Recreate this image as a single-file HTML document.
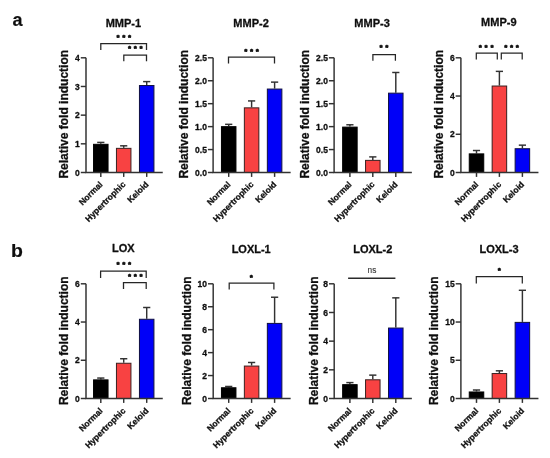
<!DOCTYPE html>
<html><head><meta charset="utf-8"><title>Relative fold induction of MMP and LOX family genes</title>
<style>
html,body{margin:0;padding:0;background:#fff;}
body{width:550px;height:458px;overflow:hidden;}
svg{display:block;}
text{font-family:"Liberation Sans", Arial, Helvetica, sans-serif;fill:#111;stroke:#111;stroke-width:0.3px;stroke-linejoin:round;}
.tk{font-size:8.5px;font-weight:bold;text-anchor:end;}
.xl{font-size:8.5px;font-weight:bold;text-anchor:end;}
.ti{font-size:11px;font-weight:bold;text-anchor:middle;}
.yl{font-size:12px;font-weight:bold;text-anchor:start;}
.st{font-size:8px;font-weight:bold;text-anchor:middle;letter-spacing:2.65px;stroke-width:0.6px;}
.ns{font-size:8.3px;text-anchor:middle;fill:#3c3c3c;stroke:#3c3c3c;stroke-width:0.15px;}
.pl{font-size:18px;font-weight:bold;stroke-width:0.2px;}
</style></head>
<body>
<svg width="550" height="458" viewBox="0 0 550 458">
<defs><filter id="soft" x="0" y="0" width="100%" height="100%"><feGaussianBlur stdDeviation="0.3"/></filter></defs>
<rect width="550" height="458" fill="#fff"/>
<g filter="url(#soft)">
<text x="12.6" y="25.8" class="pl">a</text>
<text transform="translate(11.0 256.6) scale(1.08 1)" class="pl">b</text>
<g><line x1="100.80" y1="143.82" x2="100.80" y2="142.39" stroke="#303030" stroke-width="1.45"/><line x1="97.20" y1="142.39" x2="104.40" y2="142.39" stroke="#303030" stroke-width="1.45"/><rect x="93.55" y="144.32" width="14.50" height="28.18" fill="#000000" stroke="#000000" stroke-width="1"/><line x1="123.70" y1="147.84" x2="123.70" y2="145.83" stroke="#303030" stroke-width="1.45"/><line x1="120.10" y1="145.83" x2="127.30" y2="145.83" stroke="#303030" stroke-width="1.45"/><rect x="116.45" y="148.34" width="14.50" height="24.16" fill="#f84242" stroke="#3a2020" stroke-width="1"/><line x1="146.70" y1="85.04" x2="146.70" y2="81.60" stroke="#303030" stroke-width="1.45"/><line x1="143.10" y1="81.60" x2="150.30" y2="81.60" stroke="#303030" stroke-width="1.45"/><rect x="139.45" y="85.54" width="14.50" height="86.96" fill="#0000f8" stroke="#101040" stroke-width="1"/><path d="M86.00 57.80 V172.50 H162.75" fill="none" stroke="#303030" stroke-width="1.45"/><line x1="80.80" y1="172.50" x2="86.00" y2="172.50" stroke="#303030" stroke-width="1.45"/><text x="79.80" y="175.65" class="tk">0</text><line x1="80.80" y1="143.82" x2="86.00" y2="143.82" stroke="#303030" stroke-width="1.45"/><text x="79.80" y="146.97" class="tk">1</text><line x1="80.80" y1="115.15" x2="86.00" y2="115.15" stroke="#303030" stroke-width="1.45"/><text x="79.80" y="118.30" class="tk">2</text><line x1="80.80" y1="86.47" x2="86.00" y2="86.47" stroke="#303030" stroke-width="1.45"/><text x="79.80" y="89.62" class="tk">3</text><line x1="80.80" y1="57.80" x2="86.00" y2="57.80" stroke="#303030" stroke-width="1.45"/><text x="79.80" y="60.95" class="tk">4</text><line x1="100.80" y1="172.50" x2="100.80" y2="176.90" stroke="#303030" stroke-width="1.45"/><text transform="translate(103.20 185.00) rotate(-45)" class="xl">Normal</text><line x1="123.70" y1="172.50" x2="123.70" y2="176.90" stroke="#303030" stroke-width="1.45"/><text transform="translate(126.10 185.00) rotate(-45)" class="xl">Hypertrophic</text><line x1="146.70" y1="172.50" x2="146.70" y2="176.90" stroke="#303030" stroke-width="1.45"/><text transform="translate(149.10 185.00) rotate(-45)" class="xl">Keloid</text><text x="123.40" y="27.00" class="ti">MMP-1</text><text transform="translate(68.10 178.60) rotate(-90)" class="yl">Relative fold induction</text><path d="M100.80 49.90 V43.70 H146.50 V49.90" fill="none" stroke="#262626" stroke-width="1.25"/><text x="125.03" y="39.60" class="st">***</text><path d="M123.80 61.20 V55.00 H146.50 V61.20" fill="none" stroke="#262626" stroke-width="1.25"/><text x="136.72" y="51.40" class="st">***</text></g>
<g><line x1="228.70" y1="126.16" x2="228.70" y2="124.33" stroke="#303030" stroke-width="1.45"/><line x1="225.10" y1="124.33" x2="232.30" y2="124.33" stroke="#303030" stroke-width="1.45"/><rect x="221.45" y="126.66" width="14.50" height="45.84" fill="#000000" stroke="#000000" stroke-width="1"/><line x1="251.60" y1="107.35" x2="251.60" y2="100.93" stroke="#303030" stroke-width="1.45"/><line x1="248.00" y1="100.93" x2="255.20" y2="100.93" stroke="#303030" stroke-width="1.45"/><rect x="244.35" y="107.85" width="14.50" height="64.65" fill="#f84242" stroke="#3a2020" stroke-width="1"/><line x1="274.60" y1="88.54" x2="274.60" y2="82.12" stroke="#303030" stroke-width="1.45"/><line x1="271.00" y1="82.12" x2="278.20" y2="82.12" stroke="#303030" stroke-width="1.45"/><rect x="267.35" y="89.04" width="14.50" height="83.46" fill="#0000f8" stroke="#101040" stroke-width="1"/><path d="M213.10 57.80 V172.50 H290.65" fill="none" stroke="#303030" stroke-width="1.45"/><line x1="207.90" y1="172.50" x2="213.10" y2="172.50" stroke="#303030" stroke-width="1.45"/><text x="206.90" y="175.65" class="tk">0.0</text><line x1="207.90" y1="149.56" x2="213.10" y2="149.56" stroke="#303030" stroke-width="1.45"/><text x="206.90" y="152.71" class="tk">0.5</text><line x1="207.90" y1="126.62" x2="213.10" y2="126.62" stroke="#303030" stroke-width="1.45"/><text x="206.90" y="129.77" class="tk">1.0</text><line x1="207.90" y1="103.68" x2="213.10" y2="103.68" stroke="#303030" stroke-width="1.45"/><text x="206.90" y="106.83" class="tk">1.5</text><line x1="207.90" y1="80.74" x2="213.10" y2="80.74" stroke="#303030" stroke-width="1.45"/><text x="206.90" y="83.89" class="tk">2.0</text><line x1="207.90" y1="57.80" x2="213.10" y2="57.80" stroke="#303030" stroke-width="1.45"/><text x="206.90" y="60.95" class="tk">2.5</text><line x1="228.70" y1="172.50" x2="228.70" y2="176.90" stroke="#303030" stroke-width="1.45"/><text transform="translate(231.10 185.00) rotate(-45)" class="xl">Normal</text><line x1="251.60" y1="172.50" x2="251.60" y2="176.90" stroke="#303030" stroke-width="1.45"/><text transform="translate(254.00 185.00) rotate(-45)" class="xl">Hypertrophic</text><line x1="274.60" y1="172.50" x2="274.60" y2="176.90" stroke="#303030" stroke-width="1.45"/><text transform="translate(277.00 185.00) rotate(-45)" class="xl">Keloid</text><text x="251.10" y="27.00" class="ti">MMP-2</text><text transform="translate(188.40 178.60) rotate(-90)" class="yl">Relative fold induction</text><path d="M228.50 63.60 V57.20 H274.50 V63.60" fill="none" stroke="#262626" stroke-width="1.25"/><text x="252.82" y="53.80" class="st">***</text></g>
<g><line x1="349.90" y1="126.62" x2="349.90" y2="124.78" stroke="#303030" stroke-width="1.45"/><line x1="346.30" y1="124.78" x2="353.50" y2="124.78" stroke="#303030" stroke-width="1.45"/><rect x="342.65" y="127.12" width="14.50" height="45.38" fill="#000000" stroke="#000000" stroke-width="1"/><line x1="372.80" y1="159.88" x2="372.80" y2="156.90" stroke="#303030" stroke-width="1.45"/><line x1="369.20" y1="156.90" x2="376.40" y2="156.90" stroke="#303030" stroke-width="1.45"/><rect x="365.55" y="160.38" width="14.50" height="12.12" fill="#f84242" stroke="#3a2020" stroke-width="1"/><line x1="395.80" y1="92.67" x2="395.80" y2="72.48" stroke="#303030" stroke-width="1.45"/><line x1="392.20" y1="72.48" x2="399.40" y2="72.48" stroke="#303030" stroke-width="1.45"/><rect x="388.55" y="93.17" width="14.50" height="79.33" fill="#0000f8" stroke="#101040" stroke-width="1"/><path d="M334.10 57.80 V172.50 H411.85" fill="none" stroke="#303030" stroke-width="1.45"/><line x1="328.90" y1="172.50" x2="334.10" y2="172.50" stroke="#303030" stroke-width="1.45"/><text x="327.90" y="175.65" class="tk">0.0</text><line x1="328.90" y1="149.56" x2="334.10" y2="149.56" stroke="#303030" stroke-width="1.45"/><text x="327.90" y="152.71" class="tk">0.5</text><line x1="328.90" y1="126.62" x2="334.10" y2="126.62" stroke="#303030" stroke-width="1.45"/><text x="327.90" y="129.77" class="tk">1.0</text><line x1="328.90" y1="103.68" x2="334.10" y2="103.68" stroke="#303030" stroke-width="1.45"/><text x="327.90" y="106.83" class="tk">1.5</text><line x1="328.90" y1="80.74" x2="334.10" y2="80.74" stroke="#303030" stroke-width="1.45"/><text x="327.90" y="83.89" class="tk">2.0</text><line x1="328.90" y1="57.80" x2="334.10" y2="57.80" stroke="#303030" stroke-width="1.45"/><text x="327.90" y="60.95" class="tk">2.5</text><line x1="349.90" y1="172.50" x2="349.90" y2="176.90" stroke="#303030" stroke-width="1.45"/><text transform="translate(352.30 185.00) rotate(-45)" class="xl">Normal</text><line x1="372.80" y1="172.50" x2="372.80" y2="176.90" stroke="#303030" stroke-width="1.45"/><text transform="translate(375.20 185.00) rotate(-45)" class="xl">Hypertrophic</text><line x1="395.80" y1="172.50" x2="395.80" y2="176.90" stroke="#303030" stroke-width="1.45"/><text transform="translate(398.20 185.00) rotate(-45)" class="xl">Keloid</text><text x="372.10" y="26.70" class="ti">MMP-3</text><text transform="translate(309.40 178.60) rotate(-90)" class="yl">Relative fold induction</text><path d="M372.90 60.70 V54.60 H395.40 V60.70" fill="none" stroke="#262626" stroke-width="1.25"/><text x="385.32" y="50.40" class="st">**</text></g>
<g><line x1="476.50" y1="153.38" x2="476.50" y2="150.52" stroke="#303030" stroke-width="1.45"/><line x1="472.90" y1="150.52" x2="480.10" y2="150.52" stroke="#303030" stroke-width="1.45"/><rect x="469.25" y="153.88" width="14.50" height="18.62" fill="#000000" stroke="#000000" stroke-width="1"/><line x1="499.40" y1="85.52" x2="499.40" y2="71.37" stroke="#303030" stroke-width="1.45"/><line x1="495.80" y1="71.37" x2="503.00" y2="71.37" stroke="#303030" stroke-width="1.45"/><rect x="492.15" y="86.02" width="14.50" height="86.48" fill="#f84242" stroke="#3a2020" stroke-width="1"/><line x1="522.40" y1="148.22" x2="522.40" y2="145.16" stroke="#303030" stroke-width="1.45"/><line x1="518.80" y1="145.16" x2="526.00" y2="145.16" stroke="#303030" stroke-width="1.45"/><rect x="515.15" y="148.72" width="14.50" height="23.78" fill="#0000f8" stroke="#101040" stroke-width="1"/><path d="M460.90 57.80 V172.50 H538.45" fill="none" stroke="#303030" stroke-width="1.45"/><line x1="455.70" y1="172.50" x2="460.90" y2="172.50" stroke="#303030" stroke-width="1.45"/><text x="454.70" y="175.65" class="tk">0</text><line x1="455.70" y1="134.27" x2="460.90" y2="134.27" stroke="#303030" stroke-width="1.45"/><text x="454.70" y="137.42" class="tk">2</text><line x1="455.70" y1="96.03" x2="460.90" y2="96.03" stroke="#303030" stroke-width="1.45"/><text x="454.70" y="99.18" class="tk">4</text><line x1="455.70" y1="57.80" x2="460.90" y2="57.80" stroke="#303030" stroke-width="1.45"/><text x="454.70" y="60.95" class="tk">6</text><line x1="476.50" y1="172.50" x2="476.50" y2="176.90" stroke="#303030" stroke-width="1.45"/><text transform="translate(478.90 185.00) rotate(-45)" class="xl">Normal</text><line x1="499.40" y1="172.50" x2="499.40" y2="176.90" stroke="#303030" stroke-width="1.45"/><text transform="translate(501.80 185.00) rotate(-45)" class="xl">Hypertrophic</text><line x1="522.40" y1="172.50" x2="522.40" y2="176.90" stroke="#303030" stroke-width="1.45"/><text transform="translate(524.80 185.00) rotate(-45)" class="xl">Keloid</text><text x="498.80" y="26.40" class="ti">MMP-9</text><text transform="translate(443.00 178.60) rotate(-90)" class="yl">Relative fold induction</text><path d="M476.30 59.60 V53.10 H497.30 V59.60" fill="none" stroke="#262626" stroke-width="1.25"/><text x="487.52" y="49.50" class="st">***</text><path d="M501.30 59.60 V53.10 H522.20 V59.60" fill="none" stroke="#262626" stroke-width="1.25"/><text x="512.83" y="49.50" class="st">***</text></g>
<g><line x1="100.80" y1="379.38" x2="100.80" y2="378.05" stroke="#303030" stroke-width="1.45"/><line x1="97.20" y1="378.05" x2="104.40" y2="378.05" stroke="#303030" stroke-width="1.45"/><rect x="93.55" y="379.88" width="14.50" height="18.62" fill="#000000" stroke="#000000" stroke-width="1"/><line x1="123.70" y1="362.75" x2="123.70" y2="358.74" stroke="#303030" stroke-width="1.45"/><line x1="120.10" y1="358.74" x2="127.30" y2="358.74" stroke="#303030" stroke-width="1.45"/><rect x="116.45" y="363.25" width="14.50" height="35.25" fill="#f84242" stroke="#3a2020" stroke-width="1"/><line x1="146.70" y1="318.78" x2="146.70" y2="307.50" stroke="#303030" stroke-width="1.45"/><line x1="143.10" y1="307.50" x2="150.30" y2="307.50" stroke="#303030" stroke-width="1.45"/><rect x="139.45" y="319.28" width="14.50" height="79.22" fill="#0000f8" stroke="#101040" stroke-width="1"/><path d="M86.00 283.80 V398.50 H162.75" fill="none" stroke="#303030" stroke-width="1.45"/><line x1="80.80" y1="398.50" x2="86.00" y2="398.50" stroke="#303030" stroke-width="1.45"/><text x="79.80" y="401.65" class="tk">0</text><line x1="80.80" y1="360.27" x2="86.00" y2="360.27" stroke="#303030" stroke-width="1.45"/><text x="79.80" y="363.42" class="tk">2</text><line x1="80.80" y1="322.03" x2="86.00" y2="322.03" stroke="#303030" stroke-width="1.45"/><text x="79.80" y="325.18" class="tk">4</text><line x1="80.80" y1="283.80" x2="86.00" y2="283.80" stroke="#303030" stroke-width="1.45"/><text x="79.80" y="286.95" class="tk">6</text><line x1="100.80" y1="398.50" x2="100.80" y2="402.90" stroke="#303030" stroke-width="1.45"/><text transform="translate(103.20 411.40) rotate(-45)" class="xl">Normal</text><line x1="123.70" y1="398.50" x2="123.70" y2="402.90" stroke="#303030" stroke-width="1.45"/><text transform="translate(126.10 411.40) rotate(-45)" class="xl">Hypertrophic</text><line x1="146.70" y1="398.50" x2="146.70" y2="402.90" stroke="#303030" stroke-width="1.45"/><text transform="translate(149.10 411.40) rotate(-45)" class="xl">Keloid</text><text x="123.40" y="252.10" class="ti">LOX</text><text transform="translate(67.90 405.10) rotate(-90)" class="yl">Relative fold induction</text><path d="M100.60 278.00 V271.00 H146.20 V278.00" fill="none" stroke="#262626" stroke-width="1.25"/><text x="125.12" y="267.20" class="st">***</text><path d="M123.50 288.90 V282.50 H146.20 V288.90" fill="none" stroke="#262626" stroke-width="1.25"/><text x="136.72" y="278.50" class="st">***</text></g>
<g><line x1="228.70" y1="387.26" x2="228.70" y2="386.46" stroke="#303030" stroke-width="1.45"/><line x1="225.10" y1="386.46" x2="232.30" y2="386.46" stroke="#303030" stroke-width="1.45"/><rect x="221.45" y="387.76" width="14.50" height="10.74" fill="#000000" stroke="#000000" stroke-width="1"/><line x1="251.60" y1="365.58" x2="251.60" y2="362.48" stroke="#303030" stroke-width="1.45"/><line x1="248.00" y1="362.48" x2="255.20" y2="362.48" stroke="#303030" stroke-width="1.45"/><rect x="244.35" y="366.08" width="14.50" height="32.42" fill="#f84242" stroke="#3a2020" stroke-width="1"/><line x1="274.60" y1="322.91" x2="274.60" y2="297.22" stroke="#303030" stroke-width="1.45"/><line x1="271.00" y1="297.22" x2="278.20" y2="297.22" stroke="#303030" stroke-width="1.45"/><rect x="267.35" y="323.41" width="14.50" height="75.09" fill="#0000f8" stroke="#101040" stroke-width="1"/><path d="M213.20 283.80 V398.50 H290.65" fill="none" stroke="#303030" stroke-width="1.45"/><line x1="208.00" y1="398.50" x2="213.20" y2="398.50" stroke="#303030" stroke-width="1.45"/><text x="207.00" y="401.65" class="tk">0</text><line x1="208.00" y1="375.56" x2="213.20" y2="375.56" stroke="#303030" stroke-width="1.45"/><text x="207.00" y="378.71" class="tk">2</text><line x1="208.00" y1="352.62" x2="213.20" y2="352.62" stroke="#303030" stroke-width="1.45"/><text x="207.00" y="355.77" class="tk">4</text><line x1="208.00" y1="329.68" x2="213.20" y2="329.68" stroke="#303030" stroke-width="1.45"/><text x="207.00" y="332.83" class="tk">6</text><line x1="208.00" y1="306.74" x2="213.20" y2="306.74" stroke="#303030" stroke-width="1.45"/><text x="207.00" y="309.89" class="tk">8</text><line x1="208.00" y1="283.80" x2="213.20" y2="283.80" stroke="#303030" stroke-width="1.45"/><text x="207.00" y="286.95" class="tk">10</text><line x1="228.70" y1="398.50" x2="228.70" y2="402.90" stroke="#303030" stroke-width="1.45"/><text transform="translate(231.10 411.40) rotate(-45)" class="xl">Normal</text><line x1="251.60" y1="398.50" x2="251.60" y2="402.90" stroke="#303030" stroke-width="1.45"/><text transform="translate(254.00 411.40) rotate(-45)" class="xl">Hypertrophic</text><line x1="274.60" y1="398.50" x2="274.60" y2="402.90" stroke="#303030" stroke-width="1.45"/><text transform="translate(277.00 411.40) rotate(-45)" class="xl">Keloid</text><text x="251.20" y="252.50" class="ti">LOXL-1</text><text transform="translate(190.60 405.10) rotate(-90)" class="yl">Relative fold induction</text><path d="M229.20 289.60 V283.20 H273.90 V289.60" fill="none" stroke="#262626" stroke-width="1.25"/><text x="252.52" y="280.30" class="st">*</text></g>
<g><line x1="349.90" y1="384.16" x2="349.90" y2="382.59" stroke="#303030" stroke-width="1.45"/><line x1="346.30" y1="382.59" x2="353.50" y2="382.59" stroke="#303030" stroke-width="1.45"/><rect x="342.65" y="384.66" width="14.50" height="13.84" fill="#000000" stroke="#000000" stroke-width="1"/><line x1="372.80" y1="379.29" x2="372.80" y2="375.13" stroke="#303030" stroke-width="1.45"/><line x1="369.20" y1="375.13" x2="376.40" y2="375.13" stroke="#303030" stroke-width="1.45"/><rect x="365.55" y="379.79" width="14.50" height="18.71" fill="#f84242" stroke="#3a2020" stroke-width="1"/><line x1="395.80" y1="327.53" x2="395.80" y2="297.85" stroke="#303030" stroke-width="1.45"/><line x1="392.20" y1="297.85" x2="399.40" y2="297.85" stroke="#303030" stroke-width="1.45"/><rect x="388.55" y="328.03" width="14.50" height="70.47" fill="#0000f8" stroke="#101040" stroke-width="1"/><path d="M334.20 283.80 V398.50 H411.85" fill="none" stroke="#303030" stroke-width="1.45"/><line x1="329.00" y1="398.50" x2="334.20" y2="398.50" stroke="#303030" stroke-width="1.45"/><text x="328.00" y="401.65" class="tk">0</text><line x1="329.00" y1="369.82" x2="334.20" y2="369.82" stroke="#303030" stroke-width="1.45"/><text x="328.00" y="372.97" class="tk">2</text><line x1="329.00" y1="341.15" x2="334.20" y2="341.15" stroke="#303030" stroke-width="1.45"/><text x="328.00" y="344.30" class="tk">4</text><line x1="329.00" y1="312.48" x2="334.20" y2="312.48" stroke="#303030" stroke-width="1.45"/><text x="328.00" y="315.62" class="tk">6</text><line x1="329.00" y1="283.80" x2="334.20" y2="283.80" stroke="#303030" stroke-width="1.45"/><text x="328.00" y="286.95" class="tk">8</text><line x1="349.90" y1="398.50" x2="349.90" y2="402.90" stroke="#303030" stroke-width="1.45"/><text transform="translate(352.30 411.40) rotate(-45)" class="xl">Normal</text><line x1="372.80" y1="398.50" x2="372.80" y2="402.90" stroke="#303030" stroke-width="1.45"/><text transform="translate(375.20 411.40) rotate(-45)" class="xl">Hypertrophic</text><line x1="395.80" y1="398.50" x2="395.80" y2="402.90" stroke="#303030" stroke-width="1.45"/><text transform="translate(398.20 411.40) rotate(-45)" class="xl">Keloid</text><text x="372.80" y="253.00" class="ti">LOXL-2</text><text transform="translate(317.80 405.10) rotate(-90)" class="yl">Relative fold induction</text><line x1="348.10" y1="278.30" x2="395.40" y2="278.30" stroke="#2b2b2b" stroke-width="1.5"/><text x="372.00" y="272.80" class="ns">ns</text></g>
<g><line x1="476.50" y1="391.47" x2="476.50" y2="390.01" stroke="#303030" stroke-width="1.45"/><line x1="472.90" y1="390.01" x2="480.10" y2="390.01" stroke="#303030" stroke-width="1.45"/><rect x="469.25" y="391.97" width="14.50" height="6.53" fill="#000000" stroke="#000000" stroke-width="1"/><line x1="499.40" y1="373.04" x2="499.40" y2="370.82" stroke="#303030" stroke-width="1.45"/><line x1="495.80" y1="370.82" x2="503.00" y2="370.82" stroke="#303030" stroke-width="1.45"/><rect x="492.15" y="373.54" width="14.50" height="24.96" fill="#f84242" stroke="#3a2020" stroke-width="1"/><line x1="522.40" y1="321.88" x2="522.40" y2="290.30" stroke="#303030" stroke-width="1.45"/><line x1="518.80" y1="290.30" x2="526.00" y2="290.30" stroke="#303030" stroke-width="1.45"/><rect x="515.15" y="322.38" width="14.50" height="76.12" fill="#0000f8" stroke="#101040" stroke-width="1"/><path d="M460.90 283.80 V398.50 H538.45" fill="none" stroke="#303030" stroke-width="1.45"/><line x1="455.70" y1="398.50" x2="460.90" y2="398.50" stroke="#303030" stroke-width="1.45"/><text x="454.70" y="401.65" class="tk">0</text><line x1="455.70" y1="360.27" x2="460.90" y2="360.27" stroke="#303030" stroke-width="1.45"/><text x="454.70" y="363.42" class="tk">5</text><line x1="455.70" y1="322.03" x2="460.90" y2="322.03" stroke="#303030" stroke-width="1.45"/><text x="454.70" y="325.18" class="tk">10</text><line x1="455.70" y1="283.80" x2="460.90" y2="283.80" stroke="#303030" stroke-width="1.45"/><text x="454.70" y="286.95" class="tk">15</text><line x1="476.50" y1="398.50" x2="476.50" y2="402.90" stroke="#303030" stroke-width="1.45"/><text transform="translate(478.90 411.40) rotate(-45)" class="xl">Normal</text><line x1="499.40" y1="398.50" x2="499.40" y2="402.90" stroke="#303030" stroke-width="1.45"/><text transform="translate(501.80 411.40) rotate(-45)" class="xl">Hypertrophic</text><line x1="522.40" y1="398.50" x2="522.40" y2="402.90" stroke="#303030" stroke-width="1.45"/><text transform="translate(524.80 411.40) rotate(-45)" class="xl">Keloid</text><text x="499.00" y="252.50" class="ti">LOXL-3</text><text transform="translate(438.40 405.10) rotate(-90)" class="yl">Relative fold induction</text><path d="M476.30 283.40 V276.70 H522.30 V283.40" fill="none" stroke="#262626" stroke-width="1.25"/><text x="500.62" y="273.40" class="st">*</text></g>
</g>
</svg>
</body></html>
